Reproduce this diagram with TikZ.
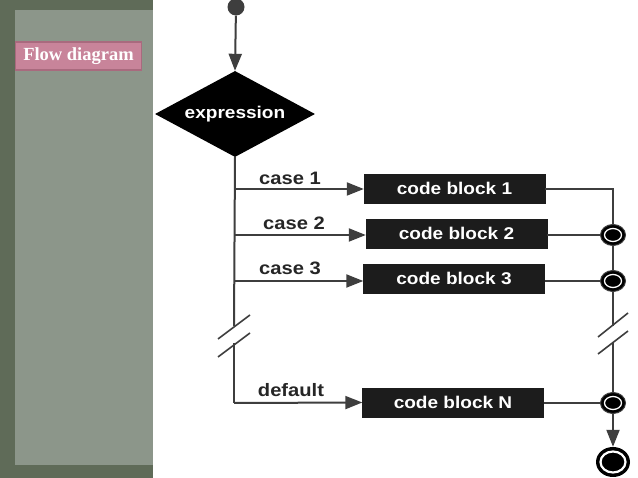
\documentclass[tikz,border=0pt]{standalone}
\usepackage{fontspec}
\usetikzlibrary{shapes.geometric,arrows.meta}
\newfontfamily\diag[FakeStretch=1.12]{Liberation Sans}
\newfontfamily\titlefont{Liberation Serif}
\definecolor{dkgreen}{HTML}{5F6B58}
\definecolor{paper}{HTML}{8C968A}
\definecolor{pinkfill}{HTML}{C8849A}
\definecolor{pinkline}{HTML}{A96A7E}
\definecolor{wire}{HTML}{3E3E3E}
\definecolor{boxfill}{HTML}{1C1C1C}
\begin{document}
\begin{tikzpicture}[x=1pt,y=-1pt,
  wireline/.style={draw=wire,line width=2pt},
  arrowline/.style={wireline,-{Triangle[length=17pt,width=13pt]}},
  codebox/.style={rectangle,fill=boxfill,draw=boxfill,minimum width=181pt,minimum height=29pt,inner sep=0pt,text=white,font=\diag\bfseries\fontsize{17}{19}\selectfont},
  caselabel/.style={inner sep=0pt,text=black!85,font=\diag\bfseries\fontsize{18}{20}\selectfont},
  junction/.style={ellipse,fill=black,draw=wire,line width=1pt,minimum width=25pt,minimum height=21pt,inner sep=0pt,
    path picture={\draw[white,line width=1.3pt] (path picture bounding box.center) ellipse (8.5pt and 6.5pt);}},
  breakmark/.style={draw=wire,line width=1.6pt}
]
\useasboundingbox (0,0) rectangle (638,478);
\fill[white] (0,0) rectangle (638,478);
\fill[dkgreen] (0,0) rectangle (153,478);
\fill[paper] (15,10) rectangle (153,465);
\node[fill=pinkfill,draw=pinkline,line width=1.5pt,minimum width=126pt,minimum height=28pt,inner sep=0pt,text=white,font=\titlefont\bfseries\fontsize{18.5}{20}\selectfont] (title) at (78.5,56) {Flow diagram};

% start
\node[circle,fill=wire,minimum size=17pt,inner sep=0pt] (start) at (236,7) {};
\node[diamond,aspect=1.86,fill=black,minimum width=160pt,minimum height=86pt,inner sep=0pt,text=white,font=\diag\bfseries\fontsize{17}{19}\selectfont] (expr) at (235,114) {expression};
\draw[arrowline] (start) -- (expr.north);

% boxes
\node[codebox] (b1) at (454.5,188.5) {code block 1};
\node[codebox] (b2) at (456.5,233.5) {code block 2};
\node[codebox] (b3) at (454,278.5) {code block 3};
\node[codebox] (bN) at (453,402.5) {code block N};

% left trunk
\coordinate (s1) at (234,189);
\coordinate (s2) at (234,235);
\coordinate (s3) at (234,281);
\coordinate (gapTop) at (234,326);
\coordinate (gapBot) at (234,343);
\coordinate (sN) at (234,403);
\draw[wireline] (expr.south) -- (gapTop);
\draw[wireline] (gapBot) -- (sN);
\draw[arrowline] (sN) -- (bN.west);
\draw[arrowline] (s1) -- (b1.west |- s1);
\draw[arrowline] (s2) -- (b2.west |- s2);
\draw[arrowline] (s3) -- (b3.west |- s3);
\coordinate (lbA1) at (218,339); \coordinate (lbA2) at (250,315);
\coordinate (lbB1) at (218,357); \coordinate (lbB2) at (250,333);
\draw[breakmark] (lbA1) -- (lbA2);
\draw[breakmark] (lbB1) -- (lbB2);

\node[caselabel] (l1) at (290,178) {case 1};
\node[caselabel] (l2) at (294,223) {case 2};
\node[caselabel] (l3) at (290,268) {case 3};
\node[caselabel] (lN) at (291,390) {default};

% right trunk
\coordinate (c1) at (613,189);
\node[junction] (j2) at (613,235) {};
\node[junction] (j3) at (613,281) {};
\node[junction] (jN) at (613,403) {};
\coordinate (rgTop) at (613,326);
\coordinate (rgBot) at (613,342);
\draw[wireline] (b1.east |- c1) -- (c1) -- (j2);
\draw[wireline] (b2.east |- j2) -- (j2);
\draw[wireline] (b3.east |- j3) -- (j3);
\draw[wireline] (bN.east |- jN) -- (jN);
\draw[wireline] (j2) -- (j3);
\draw[wireline] (j3) -- (rgTop);
\draw[wireline] (rgBot) -- (jN);
\coordinate (rbA1) at (598,337); \coordinate (rbA2) at (628,313);
\coordinate (rbB1) at (598,354); \coordinate (rbB2) at (628,331);
\draw[breakmark] (rbA1) -- (rbA2);
\draw[breakmark] (rbB1) -- (rbB2);

% end
\node[ellipse,fill=black,minimum width=34pt,minimum height=30pt,inner sep=0pt,
  path picture={\draw[white,line width=2.2pt] (path picture bounding box.center) ellipse (12.5pt and 10.5pt);}] (end) at (613,462) {};
\draw[arrowline] (jN) -- (end);
\end{tikzpicture}
\end{document}
